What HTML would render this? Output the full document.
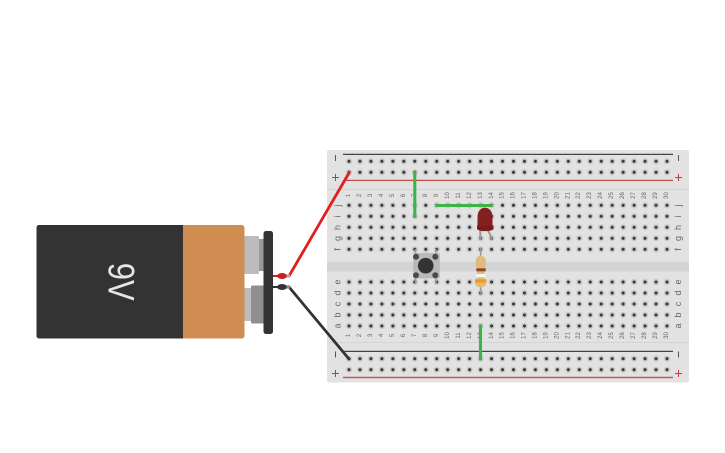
<!DOCTYPE html>
<html><head><meta charset="utf-8"><style>
html,body{margin:0;padding:0;background:#fff;width:725px;height:453px;overflow:hidden}
svg{display:block}
text{font-family:"Liberation Sans",sans-serif}
.n{font-size:6px;fill:#666;text-anchor:middle;dominant-baseline:central}
.l{font-size:9px;fill:#666;text-anchor:middle;dominant-baseline:central}
.w{fill:none;stroke-linecap:round}
</style></head><body>
<svg width="725" height="453" viewBox="0 0 725 453" xmlns="http://www.w3.org/2000/svg">
<defs>
<pattern id="h1" x="343.5" y="1.8" width="10.966" height="11" patternUnits="userSpaceOnUse">
<circle cx="5.5" cy="5.5" r="3.100" fill="#c8c8c8"/><circle cx="5.5" cy="5.5" r="1.500" fill="#333"/>
</pattern>
<pattern id="h2" x="343.5" y="1.5" width="10.966" height="11" patternUnits="userSpaceOnUse">
<circle cx="5.5" cy="5.5" r="3.100" fill="#c8c8c8"/><circle cx="5.5" cy="5.5" r="1.500" fill="#333"/>
</pattern>
<pattern id="h3" x="343.5" y="1.2" width="10.966" height="11" patternUnits="userSpaceOnUse">
<circle cx="5.5" cy="5.5" r="3.100" fill="#c8c8c8"/><circle cx="5.5" cy="5.5" r="1.500" fill="#333"/>
</pattern>
</defs>

<!-- breadboard -->
<rect x="327" y="150" width="362" height="232.5" rx="2" fill="#e2e2e2"/>
<rect x="327" y="262" width="362" height="9.500" fill="#d4d4d4"/>
<rect x="327" y="189" width="362" height="1" fill="#d4d4d4"/>
<rect x="327" y="342" width="362" height="1" fill="#d4d4d4"/>
<rect x="343" y="153.800" width="330" height="1.100" fill="#333"/>
<rect x="343" y="179.800" width="330" height="1.100" fill="#c23a3a"/>
<rect x="343" y="350.800" width="330" height="1.100" fill="#333"/>
<rect x="343" y="376.800" width="330" height="1.400" fill="#c85050"/>

<rect x="343.5" y="155" width="329" height="24" fill="url(#h1)"/>
<rect x="343.5" y="199" width="329" height="56" fill="url(#h1)"/>
<rect x="343.5" y="276" width="329" height="56" fill="url(#h2)"/>
<rect x="343.5" y="352.500" width="329" height="24" fill="url(#h3)"/>

<!-- rail signs -->
<g fill="#555">
<rect x="335" y="155" width="1" height="6"/><rect x="678" y="155" width="1" height="6"/>
<rect x="335" y="351.500" width="1" height="6"/><rect x="678" y="351.500" width="1" height="6"/>
</g>
<g fill="#c23a3a"><rect x="332" y="177" width="7" height="1"/><rect x="335" y="174" width="1" height="7"/>
<rect x="332" y="373" width="7" height="1"/><rect x="335" y="370" width="1" height="7"/>
<rect x="675" y="177" width="7" height="1"/><rect x="678" y="174" width="1" height="7"/>
<rect x="675" y="373" width="7" height="1"/><rect x="678" y="370" width="1" height="7"/></g>

<!-- column numbers -->
<text class="n" transform="translate(349,195.500) rotate(-90)">1</text><text class="n" transform="translate(360,195.500) rotate(-90)">2</text><text class="n" transform="translate(371,195.500) rotate(-90)">3</text><text class="n" transform="translate(382,195.500) rotate(-90)">4</text><text class="n" transform="translate(393,195.500) rotate(-90)">5</text><text class="n" transform="translate(404,195.500) rotate(-90)">6</text><text class="n" transform="translate(415,195.500) rotate(-90)">7</text><text class="n" transform="translate(426,195.500) rotate(-90)">8</text><text class="n" transform="translate(437,195.500) rotate(-90)">9</text><text class="n" transform="translate(448,195.500) rotate(-90)">10</text><text class="n" transform="translate(459,195.500) rotate(-90)">11</text><text class="n" transform="translate(470,195.500) rotate(-90)">12</text><text class="n" transform="translate(481,195.500) rotate(-90)">13</text><text class="n" transform="translate(492,195.500) rotate(-90)">14</text><text class="n" transform="translate(502.500,195.500) rotate(-90)">15</text><text class="n" transform="translate(513.500,195.500) rotate(-90)">16</text><text class="n" transform="translate(524.500,195.500) rotate(-90)">17</text><text class="n" transform="translate(535.500,195.500) rotate(-90)">18</text><text class="n" transform="translate(546.500,195.500) rotate(-90)">19</text><text class="n" transform="translate(557.500,195.500) rotate(-90)">20</text><text class="n" transform="translate(568.500,195.500) rotate(-90)">21</text><text class="n" transform="translate(579,195.500) rotate(-90)">22</text><text class="n" transform="translate(590,195.500) rotate(-90)">23</text><text class="n" transform="translate(601,195.500) rotate(-90)">24</text><text class="n" transform="translate(612,195.500) rotate(-90)">25</text><text class="n" transform="translate(623,195.500) rotate(-90)">26</text><text class="n" transform="translate(634,195.500) rotate(-90)">27</text><text class="n" transform="translate(645,195.500) rotate(-90)">28</text><text class="n" transform="translate(656,195.500) rotate(-90)">29</text><text class="n" transform="translate(667,195.500) rotate(-90)">30</text>
<text class="n" transform="translate(349,335.500) rotate(-90)">1</text><text class="n" transform="translate(360,335.500) rotate(-90)">2</text><text class="n" transform="translate(371,335.500) rotate(-90)">3</text><text class="n" transform="translate(382,335.500) rotate(-90)">4</text><text class="n" transform="translate(393,335.500) rotate(-90)">5</text><text class="n" transform="translate(404,335.500) rotate(-90)">6</text><text class="n" transform="translate(415,335.500) rotate(-90)">7</text><text class="n" transform="translate(426,335.500) rotate(-90)">8</text><text class="n" transform="translate(437,335.500) rotate(-90)">9</text><text class="n" transform="translate(448,335.500) rotate(-90)">10</text><text class="n" transform="translate(459,335.500) rotate(-90)">11</text><text class="n" transform="translate(470,335.500) rotate(-90)">12</text><text class="n" transform="translate(481,335.500) rotate(-90)">13</text><text class="n" transform="translate(492,335.500) rotate(-90)">14</text><text class="n" transform="translate(502.500,335.500) rotate(-90)">15</text><text class="n" transform="translate(513.500,335.500) rotate(-90)">16</text><text class="n" transform="translate(524.500,335.500) rotate(-90)">17</text><text class="n" transform="translate(535.500,335.500) rotate(-90)">18</text><text class="n" transform="translate(546.500,335.500) rotate(-90)">19</text><text class="n" transform="translate(557.500,335.500) rotate(-90)">20</text><text class="n" transform="translate(568.500,335.500) rotate(-90)">21</text><text class="n" transform="translate(579,335.500) rotate(-90)">22</text><text class="n" transform="translate(590,335.500) rotate(-90)">23</text><text class="n" transform="translate(601,335.500) rotate(-90)">24</text><text class="n" transform="translate(612,335.500) rotate(-90)">25</text><text class="n" transform="translate(623,335.500) rotate(-90)">26</text><text class="n" transform="translate(634,335.500) rotate(-90)">27</text><text class="n" transform="translate(645,335.500) rotate(-90)">28</text><text class="n" transform="translate(656,335.500) rotate(-90)">29</text><text class="n" transform="translate(667,335.500) rotate(-90)">30</text>

<!-- row letters -->
<text class="l" transform="translate(337.500,205.500) rotate(-90)">j</text><text class="l" transform="translate(337.500,216.500) rotate(-90)">i</text><text class="l" transform="translate(337.500,227.500) rotate(-90)">h</text><text class="l" transform="translate(337.500,238.500) rotate(-90)">g</text><text class="l" transform="translate(337.500,249.500) rotate(-90)">f</text>
<text class="l" transform="translate(337.500,282) rotate(-90)">e</text><text class="l" transform="translate(337.500,293) rotate(-90)">d</text><text class="l" transform="translate(337.500,304) rotate(-90)">c</text><text class="l" transform="translate(337.500,315) rotate(-90)">b</text><text class="l" transform="translate(337.500,326) rotate(-90)">a</text>
<text class="l" transform="translate(678,205.500) rotate(-90)">j</text><text class="l" transform="translate(678,216.500) rotate(-90)">i</text><text class="l" transform="translate(678,227.500) rotate(-90)">h</text><text class="l" transform="translate(678,238.500) rotate(-90)">g</text><text class="l" transform="translate(678,249.500) rotate(-90)">f</text>
<text class="l" transform="translate(678,282) rotate(-90)">e</text><text class="l" transform="translate(678,293) rotate(-90)">d</text><text class="l" transform="translate(678,304) rotate(-90)">c</text><text class="l" transform="translate(678,315) rotate(-90)">b</text><text class="l" transform="translate(678,326) rotate(-90)">a</text>

<!-- green wires -->
<path class="w" d="M414.800 172.700V216.500" stroke="#3cb44a" stroke-width="3.100"/>
<path class="w" d="M436.800 205.500H491.500" stroke="#3cb44a" stroke-width="3.100"/>
<path class="w" d="M480.500 326V359" stroke="#3cb44a" stroke-width="3.100"/>

<!-- push button -->
<path d="M415.500 249V283M436 249V283" stroke="#999" stroke-width="1.500"/>
<rect x="413.300" y="253" width="26.500" height="25.500" rx="1" fill="#b9b9b9"/>
<circle cx="416" cy="256.700" r="3" fill="#4a4a4a"/><circle cx="435.300" cy="256.700" r="3" fill="#4a4a4a"/>
<circle cx="416" cy="275.300" r="3" fill="#4a4a4a"/><circle cx="435.300" cy="275.300" r="3" fill="#4a4a4a"/>
<circle cx="425.700" cy="265.700" r="7.800" fill="#333"/>

<!-- LED -->
<path d="M480.300 230V239M488 230L491.700 238.500" stroke="#999" stroke-width="2" stroke-linecap="round"/>
<path d="M477.500 217C477.500 204.500 492.500 204.500 492.500 217V227H477.500Z" fill="#832020"/>
<path d="M477 225.500H493.500V228.500C493.500 232 477 232 477 228.500Z" fill="#7a1c1c"/>

<!-- resistor -->
<path d="M480.700 248V294" stroke="#999" stroke-width="1.600"/>
<path d="M475.500 262C475.500 258 478 255.700 480.800 255.700C483.500 255.700 486 258 486 262C486 265 484.500 268 484.500 271V276C484.500 279 486.500 281 486.500 283C486.500 285.500 483 287.500 480.800 287.500C478.500 287.500 475 285.500 475 283C475 281 477 279 477 276V271C477 268 475.500 265 475.500 262Z" fill="#dfbc7e"/>
<rect x="476.300" y="268.300" width="9.400" height="3" fill="#8b4a20"/>
<rect x="476" y="274" width="9.500" height="3.300" fill="#f5f5f5"/>
<rect x="475" y="279.300" width="11.500" height="3.200" fill="#f29a1e"/>

<!-- connector wires -->
<path d="M289 276L349 173" fill="none" stroke="#e02020" stroke-width="2.800" stroke-linecap="round"/>
<path d="M289 287L349 359" fill="none" stroke="#333" stroke-width="2.800" stroke-linecap="round"/>

<!-- battery -->
<rect x="244" y="236" width="15" height="38" rx="1" fill="#bcbcbc"/>
<rect x="259" y="239" width="6" height="32" fill="#999"/>
<rect x="244" y="288" width="8" height="33" fill="#bcbcbc"/>
<rect x="251" y="285.500" width="14" height="38" rx="1" fill="#8f8f8f"/>
<path d="M183 225H241A3 3 0 0 1 244.500 228V335A3 3 0 0 1 241 338.500H183Z" fill="#d08d52"/>
<path d="M183 225H39A2.500 2.500 0 0 0 36.500 227.500V336A2.500 2.500 0 0 0 39 338.500H183Z" fill="#333"/>
<text transform="translate(120.300,281.700) rotate(90) scale(1,1.200)" text-anchor="middle" dominant-baseline="central" font-size="31" fill="#e6e6e6">9V</text>

<!-- clip -->
<rect x="263.500" y="231" width="9.500" height="103" rx="2.500" fill="#333"/>
<rect x="273" y="275" width="8" height="2" fill="#c91f1f"/>
<ellipse cx="282" cy="276" rx="5" ry="3" fill="#c91f1f"/>
<rect x="286.500" y="274.300" width="3.500" height="3.400" fill="#aaa"/>
<rect x="273" y="286" width="8" height="2" fill="#333"/>
<ellipse cx="282" cy="287" rx="5" ry="3" fill="#333"/>
<rect x="286.500" y="285.300" width="3.500" height="3.400" fill="#888"/>
</svg>
</body></html>
